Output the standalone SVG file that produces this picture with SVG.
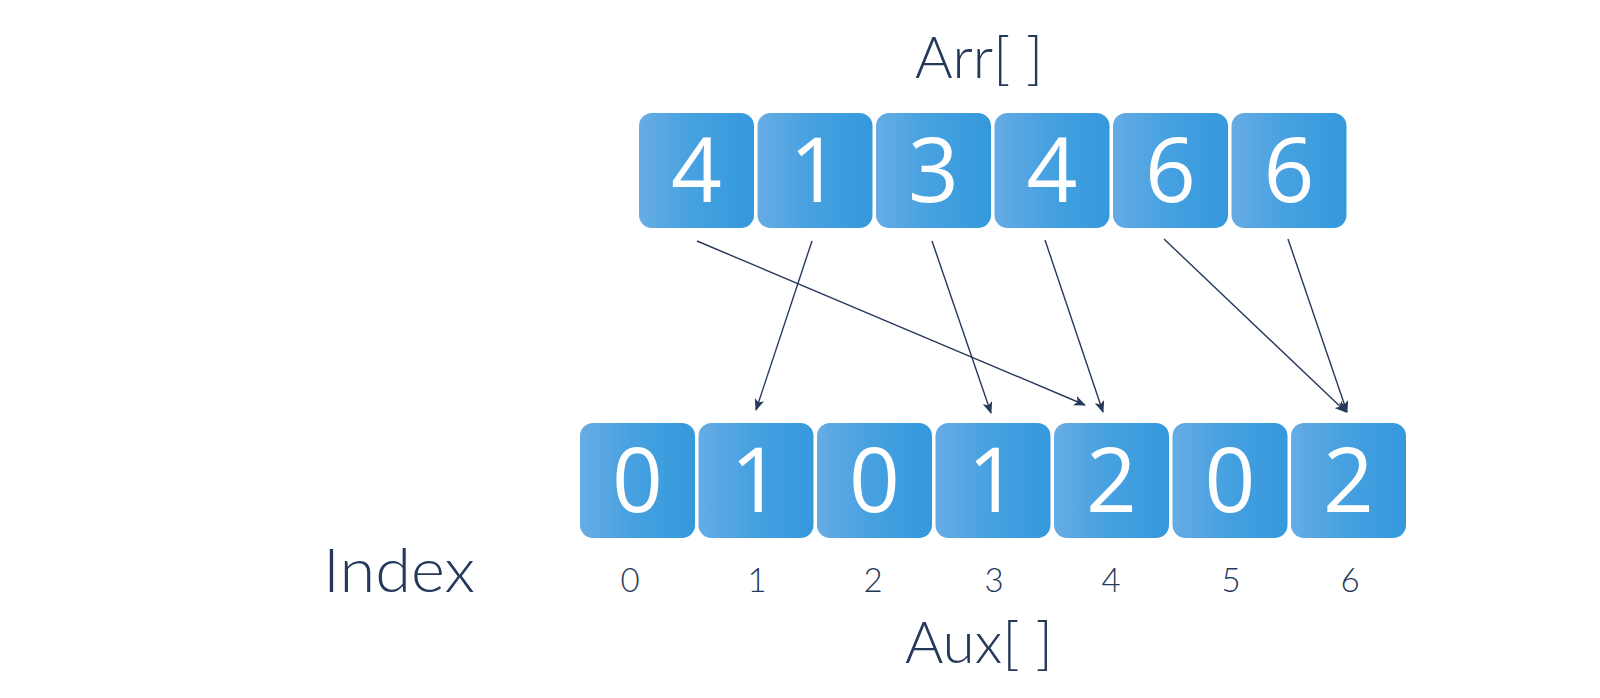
<svg xmlns="http://www.w3.org/2000/svg" width="1600" height="698" viewBox="0 0 1600 698">
<defs>
<linearGradient id="g" x1="0" y1="0" x2="1" y2="0">
<stop offset="0" stop-color="#66ace5"/>
<stop offset="0.45" stop-color="#47a1e0"/>
<stop offset="1" stop-color="#3499dc"/>
</linearGradient>
<marker id="ah" viewBox="0 0 12 10" refX="11" refY="5" markerWidth="12" markerHeight="10" markerUnits="userSpaceOnUse" orient="auto">
<path d="M0,0 L12,5 L0,10 L3,5 z" fill="#26395a"/>
</marker>
<style>
.box{fill:url(#g)}
.d{font-family:"Open Sans","Liberation Sans",sans-serif;font-size:89px;fill:#fff;text-anchor:middle}
.t{font-family:"Lato","Liberation Sans",sans-serif;font-weight:300;fill:#25395a}
.i{font-family:"Lato","Liberation Sans",sans-serif;font-weight:300;font-size:33px;fill:#25395a;text-anchor:middle}
.c{stroke:#26395a;stroke-width:1.4;fill:none;marker-end:url(#ah)}
</style>
</defs>
<rect width="1600" height="698" fill="#fff"/>
<text class="t" x="915" y="78" font-size="58" textLength="128" lengthAdjust="spacingAndGlyphs">Arr[ ]</text>
<g id="arr0"><rect class="box" x="639" y="113" width="115" height="115" rx="13"/><text class="d" x="696.5" y="202">4</text></g>
<g id="arr1"><rect class="box" x="757.5" y="113" width="115" height="115" rx="13"/><text class="d" x="815" y="202">1</text></g>
<g id="arr2"><rect class="box" x="876" y="113" width="115" height="115" rx="13"/><text class="d" x="933.5" y="202">3</text></g>
<g id="arr3"><rect class="box" x="994.5" y="113" width="115" height="115" rx="13"/><text class="d" x="1052" y="202">4</text></g>
<g id="arr4"><rect class="box" x="1113" y="113" width="115" height="115" rx="13"/><text class="d" x="1170.5" y="202">6</text></g>
<g id="arr5"><rect class="box" x="1231.5" y="113" width="115" height="115" rx="13"/><text class="d" x="1289" y="202">6</text></g>
<g id="connectors">
<line class="c" x1="697" y1="241" x2="1085" y2="405"/>
<line class="c" x1="812" y1="241" x2="756" y2="410"/>
<line class="c" x1="932" y1="241" x2="991" y2="413"/>
<line class="c" x1="1045" y1="240" x2="1103" y2="412"/>
<line class="c" x1="1164" y1="239" x2="1346" y2="412"/>
<line class="c" x1="1288" y1="239" x2="1347" y2="412"/>
</g>
<g id="aux0"><rect class="box" x="580" y="423" width="115" height="115" rx="13"/><text class="d" x="637.5" y="512">0</text></g>
<g id="aux1"><rect class="box" x="698.5" y="423" width="115" height="115" rx="13"/><text class="d" x="756" y="512">1</text></g>
<g id="aux2"><rect class="box" x="817" y="423" width="115" height="115" rx="13"/><text class="d" x="874.5" y="512">0</text></g>
<g id="aux3"><rect class="box" x="935.5" y="423" width="115" height="115" rx="13"/><text class="d" x="993" y="512">1</text></g>
<g id="aux4"><rect class="box" x="1054" y="423" width="115" height="115" rx="13"/><text class="d" x="1111.5" y="512">2</text></g>
<g id="aux5"><rect class="box" x="1172.5" y="423" width="115" height="115" rx="13"/><text class="d" x="1230" y="512">0</text></g>
<g id="aux6"><rect class="box" x="1291" y="423" width="115" height="115" rx="13"/><text class="d" x="1348.5" y="512">2</text></g>
<text class="t" x="323" y="592" font-size="62" textLength="152" lengthAdjust="spacingAndGlyphs">Index</text>
<text class="i" x="630" y="592">0</text>
<text class="i" x="757" y="592">1</text>
<text class="i" x="873" y="592">2</text>
<text class="i" x="994" y="592">3</text>
<text class="i" x="1111" y="592">4</text>
<text class="i" x="1231" y="592">5</text>
<text class="i" x="1350" y="592">6</text>
<text class="t" x="905" y="663" font-size="58" textLength="148" lengthAdjust="spacingAndGlyphs">Aux[ ]</text>
</svg>
